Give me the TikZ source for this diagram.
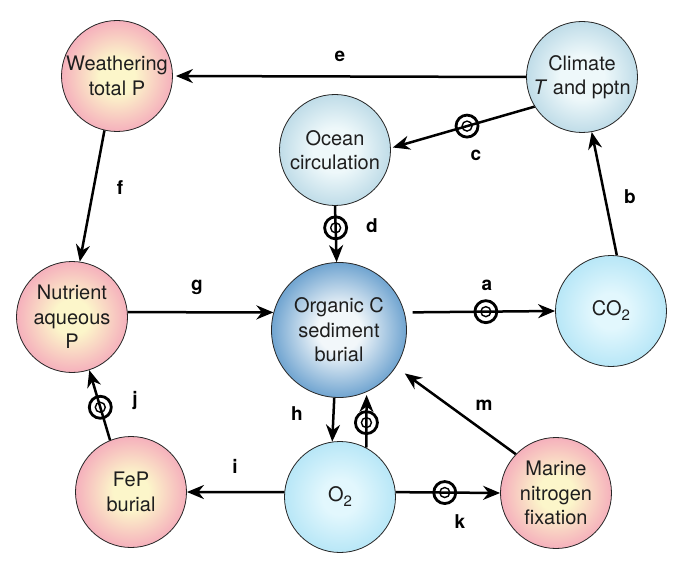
\documentclass[tikz,border=0pt]{standalone}
\usepackage{fontspec}
\setmainfont{TeX Gyre Heros}
\usetikzlibrary{arrows.meta}
\definecolor{pinkedge}{HTML}{EA6894}
\definecolor{pinkmid}{HTML}{F39CB8}
\definecolor{pinkcen}{HTML}{FCF6CA}
\definecolor{lbedge}{HTML}{7ACFEE}
\definecolor{lbcen}{HTML}{E2F7FD}
\definecolor{gbedge}{HTML}{72AECA}
\definecolor{gbcen}{HTML}{EEF8FA}
\definecolor{dbedge}{HTML}{17558F}
\definecolor{dbmid}{HTML}{4A8CC4}
\definecolor{dbcen}{HTML}{F2F7FA}
\definecolor{txtc}{HTML}{1E1E1E}
\pgfdeclareradialshading{pinkball}{\pgfpoint{0bp}{0bp}}{color(0bp)=(pinkcen); color(8bp)=(pinkcen); color(30bp)=(pinkmid); color(50bp)=(pinkedge); color(100bp)=(pinkedge)}
\pgfdeclareradialshading{lbball}{\pgfpoint{0bp}{0bp}}{color(0bp)=(lbcen); color(8bp)=(lbcen); color(50bp)=(lbedge); color(100bp)=(lbedge)}
\pgfdeclareradialshading{gbball}{\pgfpoint{0bp}{0bp}}{color(0bp)=(gbcen); color(10bp)=(gbcen); color(50bp)=(gbedge); color(100bp)=(gbedge)}
\pgfdeclareradialshading{dbball}{\pgfpoint{0bp}{0bp}}{color(0bp)=(dbcen); color(8bp)=(dbcen); color(30bp)=(dbmid); color(50bp)=(dbedge); color(100bp)=(dbedge)}
\begin{document}
\begin{tikzpicture}[x=1pt,y=-1pt,
  ball/.style={circle, draw=black!85, line width=0.8pt, inner sep=0pt, minimum size=#1},
  txt/.style={align=center, text=txtc, font=\fontsize{20}{24.5}\selectfont},
  pinkb/.style={ball=111pt, shading=pinkball},
  lbb/.style={ball=111pt, shading=lbball},
  gbb/.style={ball=111pt, shading=gbball},
  dbb/.style={ball=135pt, shading=dbball},
  arr/.style={line width=2.5pt, -{Stealth[length=17pt,width=14pt]}},
  fb/.style={circle, draw=black, line width=2.8pt, minimum size=22pt, inner sep=0pt,
    path picture={\draw[line width=1.4pt] (path picture bounding box.center) circle (5pt);}},
  lab/.style={font=\fontsize{19}{19}\selectfont\bfseries, text=black}]
\useasboundingbox (0,0) rectangle (685,580);
\fill[white] (0,0) rectangle (685,580);

\node[pinkb, label={[txt]center:{Weathering\\total P}}] (wea) at (117,76) {};
\node[gbb, label={[txt]center:{Climate\\\textit{T} and pptn}}] (cli) at (582,77) {};
\node[gbb, label={[txt]center:{Ocean\\circulation}}] (oce) at (335,150) {};
\node[pinkb, label={[txt]center:{Nutrient\\aqueous\\P}}] (nut) at (72,317) {};
\node[dbb, label={[txt]center:{Organic C\\sediment\\burial}}] (org) at (339,330) {};
\node[lbb, label={[txt]center:{CO\raisebox{-5pt}{\fontsize{15}{15}\selectfont 2}}}] (co2) at (611,311) {};
\node[pinkb, label={[txt]center:{FeP\\burial}}] (fep) at (131,492) {};
\node[lbb, label={[txt]center:{O\raisebox{-5pt}{\fontsize{15}{15}\selectfont 2}}}] (o2) at (340,497) {};
\node[pinkb, label={[txt]center:{Marine\\nitrogen\\fixation}}] (mar) at (556,493) {};

\draw[arr, shorten >=3pt] (cli.180) -- (wea.0);
\draw[arr] (wea.257) -- (nut.82);
\draw[arr] (co2.84) -- (cli.280);
\draw[arr, shorten >=2pt] (cli.212) -- node[fb, pos=0.47] (fbc) {} (oce.2);
\draw[arr] (oce.270) -- node[fb, pos=0.39] (fbd) {} (org.92.5);
\draw[arr] (nut.5) -- (org.165);
\draw[arr, shorten <=8pt] (org.15) -- node[fb, pos=0.54] (fba) {} (co2.180);
\draw[arr] (org.266) -- (o2.98);
\draw[arr, shorten >=3pt] (o2.62) -- node[fb, pos=0.45] (fbu) {} (org.294);
\draw[arr, shorten >=11pt] (mar.136) -- (org.327);
\draw[arr] (o2.175) -- (fep.0);
\draw[arr] (o2.5) -- node[fb, pos=0.47] (fbk) {} (mar.180);
\draw[arr] (fep.112) -- node[fb, pos=0.47] (fbj) {} (nut.288);

\node[lab] (le) at (340,56) {e};
\node[lab] (lc) at (476,155) {c};
\node[lab] (lb) at (630,197) {b};
\node[lab] (lf) at (120,188) {f};
\node[lab] (ld) at (372,226) {d};
\node[lab] (lg) at (197,287) {g};
\node[lab] (la) at (487,285) {a};
\node[lab] (lh) at (297,414) {h};
\node[lab] (lm) at (484,405) {m};
\node[lab] (li) at (235,466) {i};
\node[lab] (lk) at (460,522) {k};
\node[lab] (lj) at (135,400) {j};
\end{tikzpicture}
\end{document}
